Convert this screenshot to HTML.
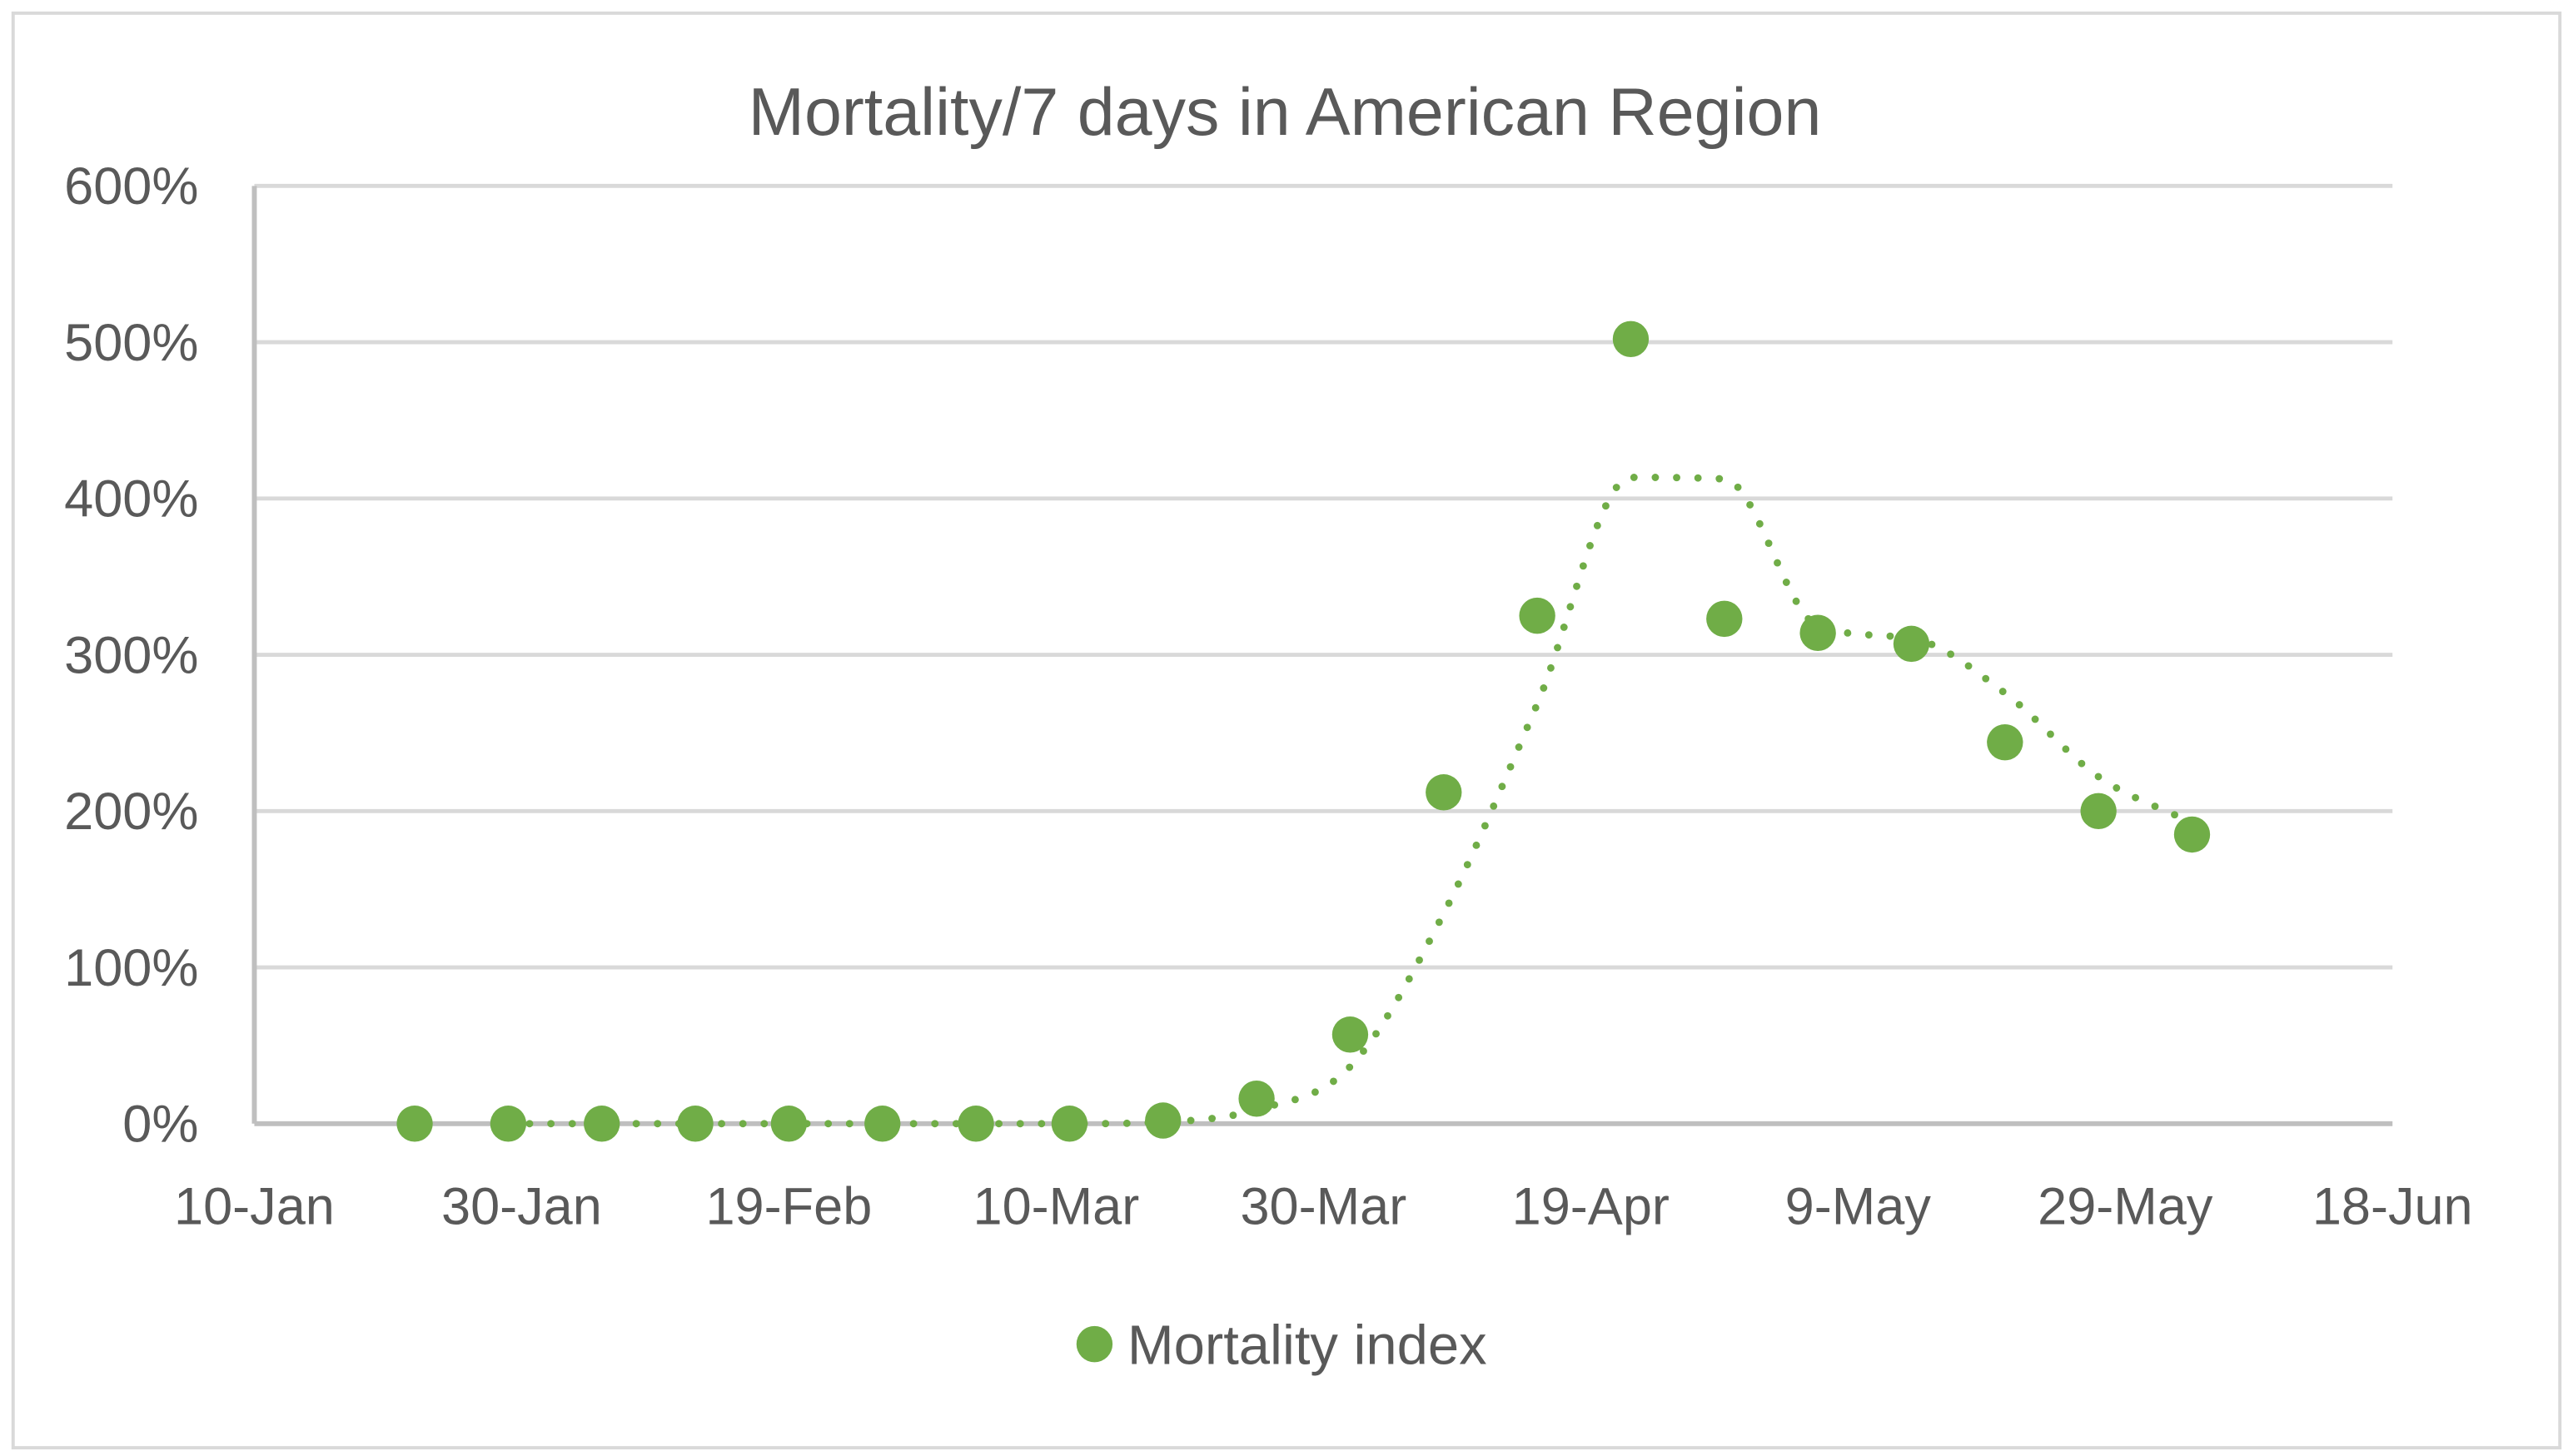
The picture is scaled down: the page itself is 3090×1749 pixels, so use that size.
<!DOCTYPE html>
<html><head><meta charset="utf-8"><style>
html,body{margin:0;padding:0;background:#fff;}
svg{display:block;font-family:"Liberation Sans",sans-serif;}
</style></head><body>
<svg id="chart" width="3090" height="1749" viewBox="0 0 1568 885" preserveAspectRatio="none" xmlns="http://www.w3.org/2000/svg">
<rect x="8" y="8" width="1552" height="872" fill="#fff" stroke="#d9d9d9" stroke-width="2"/>
<text x="783" y="82" text-anchor="middle" font-size="41" fill="#595959">Mortality/7 days in American Region</text>
<g id="grid"></g><g id="axes"></g><g id="trend"></g><g id="points"></g>
<g>
<circle cx="667" cy="817" r="11" fill="#70AD47"/>
<text x="687" y="829" font-size="34" fill="#595959">Mortality index</text>
</g>
</svg>
<script>
const yTicks=[0,100,200,300,400,500,600];
const xTickLabels=["10-Jan","30-Jan","19-Feb","10-Mar","30-Mar","19-Apr","9-May","29-May","18-Jun"];
const xTickDays=[0,20,40,60,80,100,120,140,160];
const pointDays=[12,19,26,33,40,47,54,61,68,75,82,89,96,103,110,117,124,131,138,145];
const mortality=[0,0,0,0,0,0,0,0,2,16,57,212,325,502,323,314,307,244,200,185];

const NS="http://www.w3.org/2000/svg";
const X0=155,X1=1458,Y0=683,Y1=113;
const xs=d=>X0+(d-0)/(160-0)*(X1-X0);
const ys=v=>Y0-(v-0)/(600-0)*(Y0-Y1);
function mk(tag,attrs,parent){const e=document.createElementNS(NS,tag);for(const k in attrs)e.setAttribute(k,attrs[k]);parent.appendChild(e);return e;}
const grid=document.getElementById('grid'),axes=document.getElementById('axes');
yTicks.forEach(v=>{
  if(v>0){const l=mk('line',{x1:X0,x2:X1,y1:ys(v),y2:ys(v),stroke:'#d9d9d9','stroke-width':2.5},grid);
  
  }
  const t=mk('text',{x:121,y:ys(v)+11,'text-anchor':'end','font-size':32,fill:'#595959'},axes);
  t.textContent=v+'%';
  
  
});
const ya=mk('line',{x1:X0,x2:X0,y1:Y1,y2:Y0,stroke:'#bfbfbf','stroke-width':3},axes);


const xa=mk('line',{x1:X0,x2:X1,y1:Y0,y2:Y0,stroke:'#bfbfbf','stroke-width':3},axes);


xTickLabels.forEach((s,i)=>{
  const t=mk('text',{x:xs(xTickDays[i]),y:744,'text-anchor':'middle','font-size':32,fill:'#595959'},axes);
  t.textContent=s;
  
  
});
// moving average (period 2) trendline, monotone cubic
const tp=[];
for(let i=1;i<mortality.length;i++)tp.push([xs(pointDays[i]),ys((mortality[i]+mortality[i-1])/2)]);
const n=tp.length,dl=[],m=[];
for(let i=0;i<n-1;i++)dl.push((tp[i+1][1]-tp[i][1])/(tp[i+1][0]-tp[i][0]));
for(let i=0;i<n;i++){
  if(i===0)m.push(dl[0]);else if(i===n-1)m.push(dl[n-2]);
  else m.push(dl[i-1]*dl[i]<=0?0:(dl[i-1]+dl[i])/2);
}
for(let i=0;i<n-1;i++){
  if(dl[i]===0){m[i]=0;m[i+1]=0;continue;}
  const a=m[i]/dl[i],b=m[i+1]/dl[i],s=a*a+b*b;
  if(s>9){const t=3/Math.sqrt(s);m[i]=t*a*dl[i];m[i+1]=t*b*dl[i];}
}
let d='M'+tp[0][0]+','+tp[0][1];
for(let i=0;i<n-1;i++){
  const h=(tp[i+1][0]-tp[i][0])/3;
  d+=` C${tp[i][0]+h},${tp[i][1]+m[i]*h} ${tp[i+1][0]-h},${tp[i+1][1]-m[i+1]*h} ${tp[i+1][0]},${tp[i+1][1]}`;
}
const tr=mk('path',{d:d,fill:'none',stroke:'#70AD47','stroke-width':4.5,'stroke-linecap':'round','stroke-dasharray':'0 13'},document.getElementById('trend'));


const pg=document.getElementById('points');
mortality.forEach((v,i)=>{
  const c=mk('circle',{cx:xs(pointDays[i]),cy:ys(v),r:11,fill:'#70AD47'},pg);
  
  
});
</script>
</body></html>
